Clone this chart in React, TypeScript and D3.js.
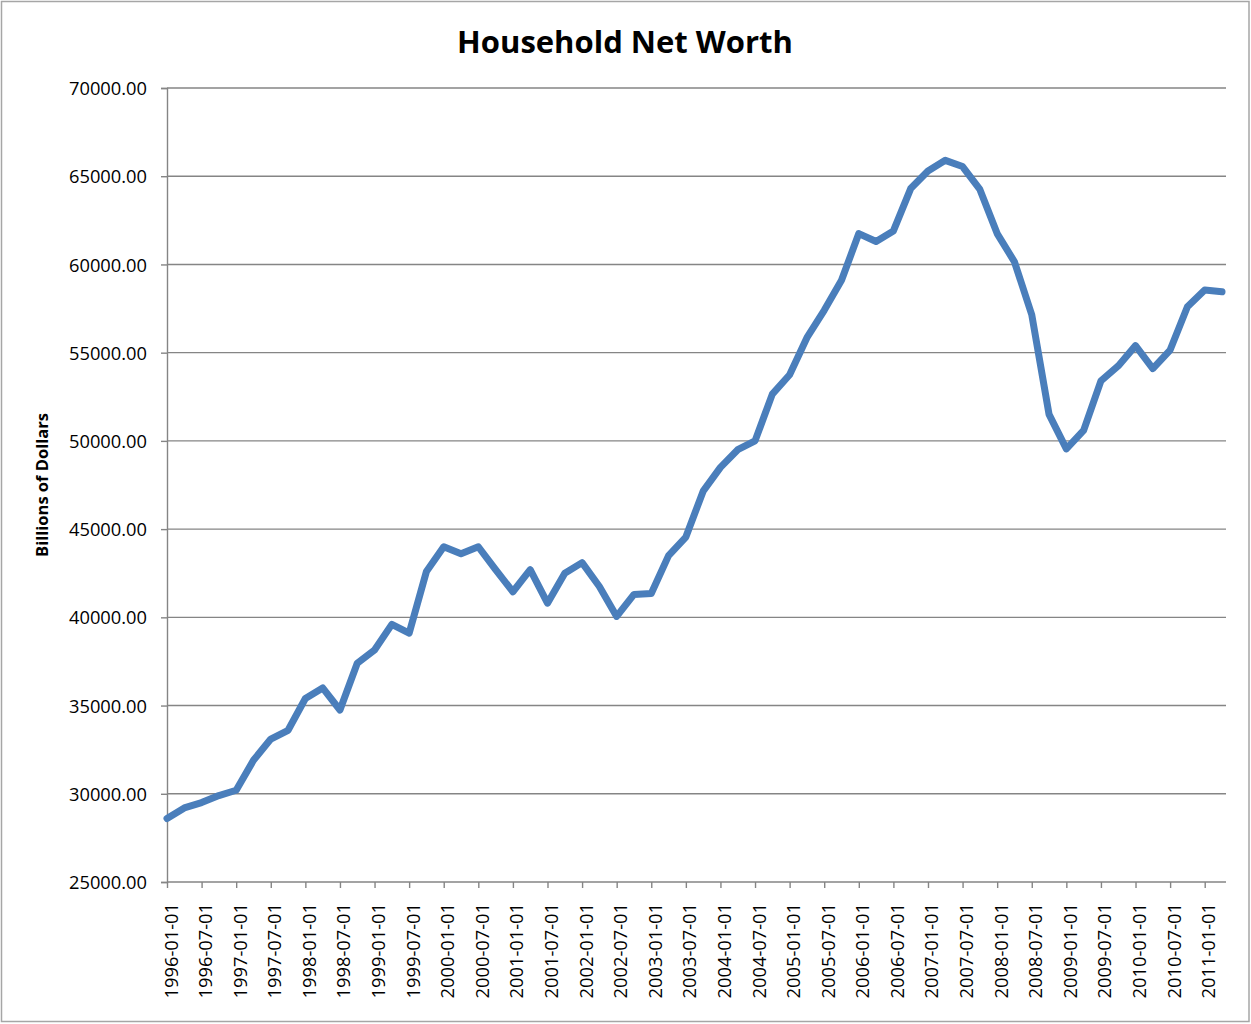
import { axisBottom, axisLeft, format, line, scaleLinear, scalePoint, select } from 'd3';
import React, { useEffect, useRef } from 'react';

// quarterly dates, 1996 Q1 - 2011 Q2
const dates = [
  '1996-01-01', '1996-04-01', '1996-07-01', '1996-10-01',
  '1997-01-01', '1997-04-01', '1997-07-01', '1997-10-01',
  '1998-01-01', '1998-04-01', '1998-07-01', '1998-10-01',
  '1999-01-01', '1999-04-01', '1999-07-01', '1999-10-01',
  '2000-01-01', '2000-04-01', '2000-07-01', '2000-10-01',
  '2001-01-01', '2001-04-01', '2001-07-01', '2001-10-01',
  '2002-01-01', '2002-04-01', '2002-07-01', '2002-10-01',
  '2003-01-01', '2003-04-01', '2003-07-01', '2003-10-01',
  '2004-01-01', '2004-04-01', '2004-07-01', '2004-10-01',
  '2005-01-01', '2005-04-01', '2005-07-01', '2005-10-01',
  '2006-01-01', '2006-04-01', '2006-07-01', '2006-10-01',
  '2007-01-01', '2007-04-01', '2007-07-01', '2007-10-01',
  '2008-01-01', '2008-04-01', '2008-07-01', '2008-10-01',
  '2009-01-01', '2009-04-01', '2009-07-01', '2009-10-01',
  '2010-01-01', '2010-04-01', '2010-07-01', '2010-10-01',
  '2011-01-01', '2011-04-01',
];

// household net worth, billions of dollars
const netWorth = [
  28600, 29200, 29500, 29900, 30200, 31900, 33100, 33600,
  35400, 36000, 34750, 37400, 38150, 39600, 39100, 42600,
  44000, 43600, 44000, 42700, 41450, 42700, 40800, 42500,
  43100, 41750, 40050, 41300, 41350, 43500, 44550, 47150,
  48500, 49500, 50000, 52650, 53750, 55850, 57400, 59100,
  61750, 61300, 61900, 64300, 65300, 65900, 65550, 64250,
  61750, 60150, 57150, 51500, 49550, 50600, 53400, 54250,
  55400, 54100, 55150, 57600, 58550, 58450,
];

const yTicks = [25000, 30000, 35000, 40000, 45000, 50000, 55000, 60000, 65000, 70000];
const xTickLabels = dates.filter((_, i) => i % 2 === 0);

const W = 1251;
const H = 1024;
const plot = { left: 167, right: 1226, top: 88, bottom: 882 };
const FONT = '"Open Sans", sans-serif';

const App: React.FC = () => {
  const svgRef = useRef<SVGSVGElement>(null);

  useEffect(() => {
    const svg = select(svgRef.current);

    const xScale = scalePoint<string>().domain(dates).range([plot.left, 1222]);
    const yScale = scaleLinear().domain([25000, 70000]).range([plot.bottom, plot.top]);

    // gridlines
    svg
      .select('.grid')
      .selectAll('line')
      .data(yTicks.slice(1))
      .join('line')
      .attr('x1', plot.left)
      .attr('x2', plot.right)
      .attr('y1', (d) => yScale(d))
      .attr('y2', (d) => yScale(d))
      .attr('stroke', '#858585')
      .attr('stroke-width', 1.4);

    // y axis
    const yAxis = axisLeft(yScale).tickValues(yTicks).tickSize(6).tickFormat((d) => format('.2f')(d as number));
    const yg = svg
      .select<SVGGElement>('.y-axis')
      .attr('transform', `translate(${plot.left},0)`)
      .call(yAxis);
    yg.select('.domain').attr('stroke', '#858585').attr('stroke-width', 1.4);
    yg.selectAll('.tick line').attr('stroke', '#858585').attr('stroke-width', 1.4);
    yg.selectAll('.tick text')
      .attr('x', -20)
      .attr('dy', '0.36em')
      .attr('fill', '#000')
      .style('font-family', FONT)
      .style('font-size', '18.3px');

    // x axis
    const xAxis = axisBottom(xScale).tickValues(xTickLabels).tickSize(6);
    const xg = svg
      .select<SVGGElement>('.x-axis')
      .attr('transform', `translate(0,${plot.bottom})`)
      .call(xAxis);
    xg.select('.domain').attr('d', `M${plot.left},0H${plot.right}`).attr('stroke', '#858585').attr('stroke-width', 1.4);
    xg.selectAll('.tick line').attr('stroke', '#858585').attr('stroke-width', 1.4);
    xg.selectAll('.tick text')
      .attr('transform', 'rotate(-90)')
      .attr('text-anchor', 'end')
      .attr('x', -21)
      .attr('y', 10)
      .attr('dy', null)
      .attr('fill', '#000')
      .style('font-family', FONT)
      .style('font-size', '18.3px');

    // series line
    const path = line<number>()
      .x((_, i) => xScale(dates[i]) as number)
      .y((d) => yScale(d));
    svg
      .select('.series')
      .selectAll('path')
      .data([netWorth])
      .join('path')
      .attr('d', path)
      .attr('fill', 'none')
      .attr('stroke', '#4a7ebb')
      .attr('stroke-width', 7)
      .attr('stroke-linejoin', 'round')
      .attr('stroke-linecap', 'round');
  }, []);

  return (
    <div style={{ position: 'absolute', left: 0, top: 0 }}>
      <svg ref={svgRef} width={W} height={H} style={{ display: 'block', background: '#fff' }}>
        <rect x={1.5} y={1.5} width={W - 3.5} height={H - 4} fill="#fff" stroke="#a6a6a6" strokeWidth={1.5} />
        <text
          x={625}
          y={53}
          textAnchor="middle"
          style={{ fontFamily: FONT, fontWeight: 700, fontSize: 31 }}
        >
          Household Net Worth
        </text>
        <text
          transform="translate(48,485) rotate(-90)"
          textAnchor="middle"
          style={{ fontFamily: FONT, fontWeight: 700, fontSize: 16.5 }}
        >
          Billions of Dollars
        </text>
        <g className="grid" />
        <g className="y-axis" />
        <g className="x-axis" />
        <g className="series" />
      </svg>
    </div>
  );
};

export default App;
